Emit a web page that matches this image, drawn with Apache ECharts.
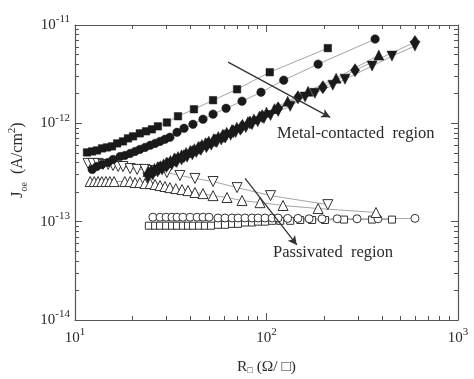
<!DOCTYPE html>
<html><head><meta charset="utf-8">
<script src="https://cdn.jsdelivr.net/npm/echarts@6/dist/echarts.min.js"></script>
<style>html,body{margin:0;padding:0;background:#fff}#c{width:474px;height:379px}</style>
</head><body><div id="c"></div>
<script>
// ---- data (R in Ohm/sq, J in A/cm^2) ----
const sqR = [11.55,12.27,13.03,13.84,14.7,15.6,16.6,17.8,18.9,20.1,21.8,23.5,25.2,27.1,30.2,34.5,41.8,52.6,70.2,104,209];
const sqJ = [5.06e-13,5.18e-13,5.30e-13,5.56e-13,5.69e-13,5.83e-13,6.25e-13,6.55e-13,7.03e-13,7.37e-13,7.91e-13,8.30e-13,8.69e-13,9.32e-13,1.02e-12,1.18e-12,1.39e-12,1.72e-12,2.22e-12,3.31e-12,5.82e-12];

const ciR = [12.3,13.0,13.8,14.9,15.8,17.2,18.2,19.4,20.6,21.8,23.2,24.7,26.2,27.8,29.5,31.3,34.1,37.1,41.3,46.6,52.6,61.5,74.5,93.6,123,186,369];
const ciJ = [3.40e-13,3.64e-13,3.82e-13,4.00e-13,4.29e-13,4.60e-13,4.71e-13,4.94e-13,5.18e-13,5.43e-13,5.69e-13,5.97e-13,6.25e-13,6.55e-13,6.87e-13,7.20e-13,8.10e-13,8.89e-13,9.77e-13,1.10e-12,1.24e-12,1.42e-12,1.68e-12,2.07e-12,2.75e-12,4.00e-12,7.19e-12];

const upR = [24,25,26,27,28,29,30,31.5,33,34.5,36,38,40,42,44,46,48,50,53,56,59,62,66,70,75,80,86,92,100,110,129,165,231,386];
const upJ = [3.23e-13,3.30e-13,3.48e-13,3.62e-13,3.70e-13,3.87e-13,4.01e-13,4.20e-13,4.43e-13,4.59e-13,4.79e-13,5.05e-13,5.30e-13,5.52e-13,5.81e-13,6.08e-13,6.36e-13,6.59e-13,6.97e-13,7.35e-13,7.70e-13,8.10e-13,8.63e-13,9.14e-13,9.77e-13,1.04e-12,1.11e-12,1.19e-12,1.30e-12,1.41e-12,1.68e-12,2.12e-12,2.88e-12,4.94e-12];

const dnR = [24,25.5,27,28.5,30,32,34,36,38.5,41,43,45.5,48.5,51.5,55,58,61,65,69,73,78,84,90,97,105,115,133,159,179,222,257,356,452,596];
const dnJ = [2.80e-13,2.98e-13,3.20e-13,3.35e-13,3.55e-13,3.78e-13,4.00e-13,4.25e-13,4.52e-13,4.80e-13,5.05e-13,5.32e-13,5.65e-13,6.00e-13,6.40e-13,6.78e-13,7.10e-13,7.55e-13,8.05e-13,8.50e-13,9.05e-13,9.70e-13,1.04e-12,1.12e-12,1.20e-12,1.32e-12,1.49e-12,1.85e-12,2.02e-12,2.44e-12,2.81e-12,3.82e-12,4.83e-12,6.10e-12];

const diR = [25,27.5,30.5,33.5,37,41,45,49,54,60,67,74,82,95,115,146,197,290,596];
const diJ = [3.20e-13,3.50e-13,3.85e-13,4.22e-13,4.62e-13,5.10e-13,5.60e-13,6.08e-13,6.70e-13,7.42e-13,8.30e-13,9.15e-13,1.02e-12,1.18e-12,1.42e-12,1.84e-12,2.33e-12,3.47e-12,6.70e-12];

const odR = [11.7,12.4,13.2,14.0,14.9,15.8,16.8,17.8,19.4,21.1,23.2,25.5,30.2,35.3,42.3,52.6,70.2,105,209];
const odJ = [3.91e-13,3.91e-13,3.91e-13,3.82e-13,3.82e-13,3.73e-13,3.64e-13,3.64e-13,3.47e-13,3.40e-13,3.40e-13,3.31e-13,3.16e-13,2.95e-13,2.75e-13,2.56e-13,2.22e-13,1.84e-13,1.49e-13];

const ouR = [12.0,12.6,13.2,13.8,14.5,15.2,16.0,18.2,19.4,20.6,21.8,23.2,24.7,26.2,27.8,29.5,31.3,33.6,36.2,38.9,42.3,46.6,52.6,62.2,74.5,92.5,122,186,373];
const ouJ = [2.56e-13,2.56e-13,2.56e-13,2.56e-13,2.56e-13,2.56e-13,2.56e-13,2.56e-13,2.56e-13,2.50e-13,2.50e-13,2.44e-13,2.44e-13,2.39e-13,2.33e-13,2.28e-13,2.22e-13,2.17e-13,2.12e-13,2.07e-13,1.98e-13,1.93e-13,1.84e-13,1.76e-13,1.64e-13,1.56e-13,1.46e-13,1.36e-13,1.24e-13];

const ocR = [25.5,27.8,29.9,32.1,34.1,36.6,39.9,43.4,46.6,50.1,55.8,60.7,66.1,71.0,77.2,84.0,90.3,98.2,107,115,129,146,167,195,234,297,382,596];
const ocJ = [1.11e-13,1.11e-13,1.11e-13,1.11e-13,1.11e-13,1.11e-13,1.11e-13,1.11e-13,1.11e-13,1.11e-13,1.09e-13,1.09e-13,1.09e-13,1.09e-13,1.09e-13,1.09e-13,1.09e-13,1.09e-13,1.09e-13,1.09e-13,1.08e-13,1.08e-13,1.07e-13,1.07e-13,1.07e-13,1.07e-13,1.07e-13,1.08e-13];

const osR = [24.3,26.2,27.8,29.9,32.1,34.1,36.6,38.9,41.3,44.4,47.7,51.3,55.8,60.7,66.1,71.0,77.2,84.0,90.3,98.2,107,118,133,150,173,202,254,356,452];
const osJ = [9.1e-14,9.1e-14,9.1e-14,9.1e-14,9.1e-14,9.1e-14,9.1e-14,9.1e-14,9.1e-14,9.1e-14,9.1e-14,9.1e-14,9.3e-14,9.3e-14,9.5e-14,9.5e-14,9.8e-14,9.8e-14,1.0e-13,1.0e-13,1.02e-13,1.02e-13,1.02e-13,1.04e-13,1.04e-13,1.04e-13,1.05e-13,1.05e-13,1.05e-13];

// tick values
const majorX = [10, 100, 1000];
const minorX = [20,30,40,50,60,70,80,90,200,300,400,500,600,700,800,900];
const majorY = [1e-14, 1e-13, 1e-12, 1e-11];
const minorY = [2e-14,3e-14,4e-14,5e-14,6e-14,7e-14,8e-14,9e-14,2e-13,3e-13,4e-13,5e-13,6e-13,7e-13,8e-13,9e-13,2e-12,3e-12,4e-12,5e-12,6e-12,7e-12,8e-12,9e-12];

// annotation arrows (data coords)
const arrowMetal = [[63, 4.19e-12], [215, 1.15e-12]];
const arrowPass = [[77.3, 2.75e-13], [144, 5.8e-14]];
const texts = { metal: 'Metal-contacted  region', pass: 'Passivated  region' };

// ---- chart ----
const SERIF = '"Liberation Serif", "DejaVu Serif", serif';
const INK = '#1a1a1a';
const TXT = '#2a2a2a';
const AX = '#555';
const X_MIN = 10, X_MAX = 1000, Y_MIN = 1e-14, Y_MAX = 1e-11;
const GRID = { left: 75, right: 16, top: 25, bottom: 59 };
const pair = (a, b) => a.map((v, i) => [v, b[i]]);

const supRich = {
  b: { fontFamily: SERIF, fontSize: 15, color: TXT, lineHeight: 22 },
  s: { fontFamily: SERIF, fontSize: 11, color: TXT, verticalAlign: 'top', lineHeight: 11 }
};
const powFmt = v => '{b|10}{s|' + Math.round(Math.log10(v)) + '}';

const axisCommon = {
  type: 'log', logBase: 10,
  axisLine: { show: true, onZero: false, lineStyle: { color: AX, width: 1.2 } },
  axisTick: { show: false },
  minorTick: { show: false },
  splitLine: { show: false }, minorSplitLine: { show: false }
};

function mk(name, R, J, symbol, size, filled, rotate) {
  return {
    name, type: 'line', data: pair(R, J), symbol, symbolSize: size, symbolRotate: rotate || 0,
    showAllSymbol: true, animation: false,
    lineStyle: { color: '#9a9a9a', width: 0.9 },
    itemStyle: filled ? { color: INK, borderColor: INK, borderWidth: 0.5 }
                      : { color: '#fff', borderColor: '#333', borderWidth: 1 },
    z: filled ? 3 : 2
  };
}

// tick marks as short mark lines through the axes' scales (length given in pixels)
const W = 474 - GRID.left - GRID.right, H = 379 - GRID.top - GRID.bottom;
const fx = len => Math.pow(X_MAX / X_MIN, len / W);
const fy = len => Math.pow(Y_MAX / Y_MIN, len / H);
const tickLines = [];
function addX(vals, len) {
  vals.forEach(v => {
    tickLines.push([{ coord: [v, Y_MIN] }, { coord: [v, Y_MIN * fy(len)] }]);
    tickLines.push([{ coord: [v, Y_MAX] }, { coord: [v, Y_MAX / fy(len)] }]);
  });
}
function addY(vals, len) {
  vals.forEach(v => {
    tickLines.push([{ coord: [X_MIN, v] }, { coord: [X_MIN * fx(len), v] }]);
    tickLines.push([{ coord: [X_MAX, v] }, { coord: [X_MAX / fx(len), v] }]);
  });
}
addX(majorX, 7); addX(minorX, 4); addY(majorY, 7); addY(minorY, 4);

const series = [
  mk('osq', osR, osJ, 'rect', 7, false),
  mk('oci', ocR, ocJ, 'circle', 8, false),
  mk('oup', ouR, ouJ, 'triangle', 10, false),
  mk('odn', odR, odJ, 'triangle', 10, false, 180),
  mk('sq', sqR, sqJ, 'rect', 7.5, true),
  mk('ci', ciR, ciJ, 'circle', 8.5, true),
  mk('up', upR, upJ, 'triangle', 10, true),
  mk('dn', dnR, dnJ, 'triangle', 10, true, 180),
  mk('di', diR, diJ, 'diamond', [9, 13], true),
  {
    type: 'line', data: [], animation: false,
    markLine: {
      silent: true, symbol: ['none', 'arrow'], symbolSize: [7, 9],
      label: { show: false },
      lineStyle: { color: '#333', width: 1.3, type: 'solid' },
      data: [
        [{ coord: arrowMetal[0] }, { coord: arrowMetal[1] }],
        [{ coord: arrowPass[0] }, { coord: arrowPass[1] }]
      ]
    }
  },
  {
    type: 'line', data: [], animation: false, z: 6,
    markLine: {
      silent: true, symbol: ['none', 'none'], animation: false,
      label: { show: false },
      lineStyle: { color: AX, width: 1, type: 'solid' },
      emphasis: { disabled: true },
      data: tickLines
    }
  }
];

const chart = echarts.init(document.getElementById('c'), null, { renderer: 'canvas' });
chart.setOption({
  backgroundColor: '#fff',
  animation: false,
  grid: Object.assign({ containLabel: false, outerBoundsMode: 'none' }, GRID),
  xAxis: [
    Object.assign({}, axisCommon, {
      position: 'bottom', min: X_MIN, max: X_MAX,
      axisLabel: { formatter: powFmt, rich: supRich, margin: 7 },
      name: '{r|R}{sub|\u25A1}{n| (\u03A9/ \u25A1)}', nameLocation: 'middle', nameGap: 39,
      nameTextStyle: { rich: {
        r: { fontFamily: SERIF, fontSize: 15.5, color: TXT },
        sub: { fontFamily: SERIF, fontSize: 9, color: TXT, verticalAlign: 'bottom', lineHeight: 16 },
        n: { fontFamily: SERIF, fontSize: 15.5, color: TXT }
      } }
    }),
    Object.assign({}, axisCommon, { position: 'top', min: X_MIN, max: X_MAX, axisLabel: { show: false } })
  ],
  yAxis: [
    Object.assign({}, axisCommon, {
      position: 'left', min: Y_MIN, max: Y_MAX,
      axisLabel: { formatter: powFmt, rich: supRich, margin: 5 }
    }),
    Object.assign({}, axisCommon, { position: 'right', min: Y_MIN, max: Y_MAX, axisLabel: { show: false } })
  ],
  graphic: [
    { type: 'text', left: 277, top: 125, style: { text: texts.metal, font: '16.5px ' + SERIF, fill: TXT } },
    { type: 'text', left: 273, top: 244, style: { text: texts.pass, font: '16.5px ' + SERIF, fill: TXT } },
    { type: 'text', x: 18, y: 160, rotation: Math.PI / 2,
      style: {
        text: '{j|J}{sub|oe}{n|  (A/cm}{s|2}{n|)}', align: 'center', verticalAlign: 'middle',
        rich: {
          j: { fontFamily: SERIF, fontSize: 16, fill: TXT, lineHeight: 22 },
          sub: { fontFamily: SERIF, fontSize: 10, fill: TXT, verticalAlign: 'bottom', lineHeight: 15 },
          n: { fontFamily: SERIF, fontSize: 16, fill: TXT, lineHeight: 22 },
          s: { fontFamily: SERIF, fontSize: 11, fill: TXT, verticalAlign: 'top', lineHeight: 11 }
        }
      } }
  ],
  series
});
</script>
</body></html>
